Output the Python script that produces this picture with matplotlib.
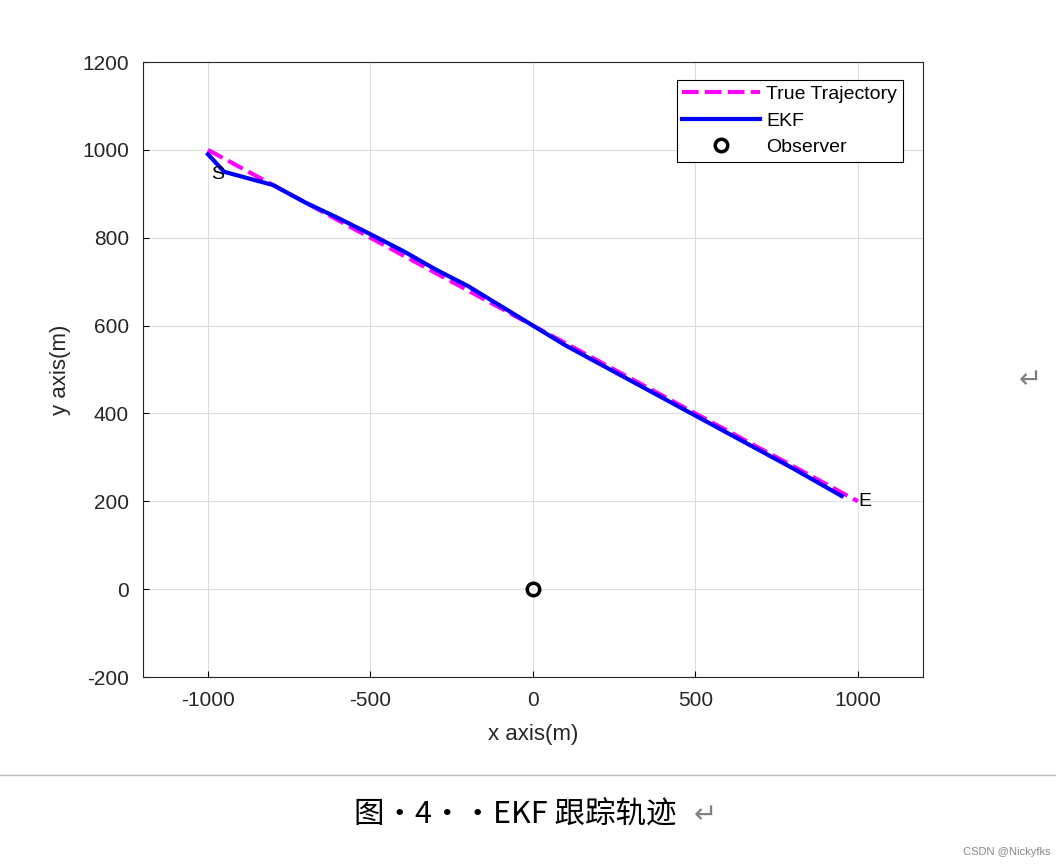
import matplotlib
matplotlib.use("Agg")
import matplotlib.pyplot as plt

true_x = [-1000, 1000]
true_y = [1000, 200]
ekf_x = [-1000, -950, -800, -700, -600, -500, -400, -300, -200, -100, 0, 100, 200, 300, 400, 500, 600, 700, 800, 950]
ekf_y = [990, 950, 920, 880, 845, 808, 770, 728, 690, 645, 600, 555, 515, 475, 435, 395, 355, 315, 275, 212]
obs_x = [0]
obs_y = [0]
xticks = [-1000, -500, 0, 500, 1000]
yticks = [-200, 0, 200, 400, 600, 800, 1000, 1200]

plt.rcParams['font.family'] = ['Liberation Sans', 'DejaVu Sans']
plt.rcParams['axes.unicode_minus'] = False
fig = plt.figure(figsize=(10.56, 8.66), dpi=100)
ax = fig.add_axes([0.1354, 0.2182, 0.7386, 0.7102])
ax.plot(true_x, true_y, '--', color='magenta', lw=3, label='True Trajectory', dashes=(4, 1.5))
ax.plot(ekf_x, ekf_y, '-', color='blue', lw=3, label='EKF')
ax.plot(obs_x, obs_y, 'o', mfc='none', mec='black', mew=2.5, ms=9, label='Observer')
ax.text(-990, 945, 'S', fontsize=14, va='center')
ax.text(1000, 200, 'E', fontsize=14, va='center')
ax.set_xlim(-1200, 1200)
ax.set_ylim(-200, 1200)
ax.set_xticks(xticks)
ax.set_yticks(yticks)
ax.tick_params(labelsize=15, direction='in', length=4, labelcolor='#262626', pad=10)
for s in ax.spines.values():
    s.set_color('#262626')
ax.grid(True, color='#dddddd', lw=0.8)
ax.set_xlabel('x axis(m)', fontsize=16, color='#262626', labelpad=10)
ax.set_ylabel('y axis(m)', fontsize=16, color='#262626', labelpad=8)
leg = ax.legend(loc='upper right', bbox_to_anchor=(0.974, 0.971), fontsize=14, fancybox=False,
                edgecolor='black', framealpha=1, handlelength=4, borderpad=0.3,
                labelspacing=0.45, handletextpad=0.3, borderaxespad=0)
leg.get_frame().set_linewidth(0.8)

fig.add_artist(plt.Line2D([0, 1], [1 - 775/866]*2, color='#bbbbbb', lw=1))
fig.text(515/1056, 1 - 815/866, '图·4··EKF 跟踪轨迹', fontsize=22, ha='center', va='center',
         family=['Noto Sans CJK SC', 'DejaVu Sans'])
fig.text(705/1056, 1 - 815/866, '↵', fontsize=20, ha='center', va='center', color='gray', family=['DejaVu Sans'])
fig.text(1030/1056, 1 - 380/866, '↵', fontsize=20, ha='center', va='center', color='gray', family=['DejaVu Sans'])
fig.text(0.995, 0.01, 'CSDN @Nickyfks', fontsize=8, ha='right', va='bottom', color='#888888')
fig.savefig('out.png', dpi=100)
